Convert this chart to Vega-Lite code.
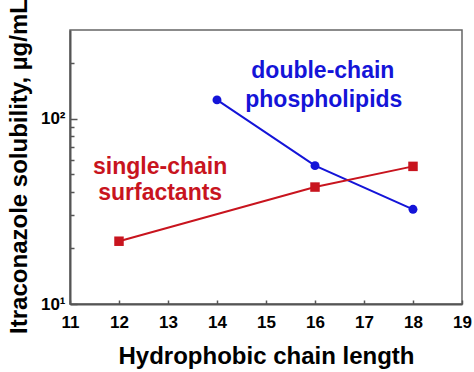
{
  "$schema": "https://vega.github.io/schema/vega-lite/v6.json",
  "width": 392,
  "height": 274,
  "autosize": {"type": "none"},
  "padding": {"left": 70, "top": 30, "right": 12, "bottom": 68},
  "background": "white",
  "config": {
    "view": {"stroke": "#666666", "strokeWidth": 1.5},
    "font": "Liberation Sans",
    "axis": {"labelFont": "Liberation Sans", "titleFont": "Liberation Sans", "labelColor": "black", "titleColor": "black", "labelFontWeight": "bold", "titleFontWeight": "bold", "domainColor": "#555555", "domainWidth": 2, "tickColor": "#555555", "tickWidth": 1.5, "grid": false}
  },
  "datasets": {
    "series": [
      {"series": "double-chain phospholipids", "chain": 14, "solubility": 126},
      {"series": "double-chain phospholipids", "chain": 16, "solubility": 55.7},
      {"series": "double-chain phospholipids", "chain": 18, "solubility": 32.4},
      {"series": "single-chain surfactants", "chain": 12, "solubility": 21.8},
      {"series": "single-chain surfactants", "chain": 16, "solubility": 42.7},
      {"series": "single-chain surfactants", "chain": 18, "solubility": 55.2}
    ],
    "labels": [
      {"series": "double-chain phospholipids", "text": "double-chain", "chain": 16.16, "solubility": 181},
      {"series": "double-chain phospholipids", "text": "phospholipids", "chain": 16.18, "solubility": 126.5},
      {"series": "single-chain surfactants", "text": "single-chain", "chain": 12.84, "solubility": 54.6},
      {"series": "single-chain surfactants", "text": "surfactants", "chain": 12.84, "solubility": 39.5}
    ]
  },
  "layer": [
    {
      "data": {"name": "series"},
      "mark": {"type": "line", "strokeWidth": 2},
      "encoding": {
        "x": {"field": "chain", "type": "quantitative", "scale": {"domain": [11, 19], "nice": false},
          "axis": {"title": "Hydrophobic chain length", "titleFontSize": 24, "titleY": 52, "titleBaseline": "middle", "values": [11, 12, 13, 14, 15, 16, 17, 18, 19], "labelFontSize": 17, "labelPadding": 14, "tickSize": -4, "labelFlush": false}},
        "y": {"field": "solubility", "type": "quantitative", "scale": {"type": "log", "domain": [10, 300], "nice": false},
          "axis": {"title": "Itraconazole solubility, µg/mL", "titleFontSize": 24, "titleX": -51, "titleY": 136, "titleBaseline": "middle", "titleAlign": "center", "values": [10, 20, 30, 40, 50, 60, 70, 80, 90, 100, 200], "labelExpr": "datum.value === 10 ? '10¹' : datum.value === 100 ? '10²' : ''", "labelFontSize": 17, "labelPadding": 12, "tickSize": {"condition": {"test": "datum.value === 10 || datum.value === 100", "value": -7}, "value": -4}, "labelFlush": false}},
        "color": {"field": "series", "type": "nominal", "scale": {"domain": ["double-chain phospholipids", "single-chain surfactants"], "range": ["#1414D8", "#C8141E"]}, "legend": null}
      }
    },
    {
      "data": {"name": "series"},
      "transform": [{"filter": "datum.series === 'double-chain phospholipids'"}],
      "mark": {"type": "point", "shape": "circle", "filled": true, "opacity": 1, "size": 80},
      "encoding": {
        "x": {"field": "chain", "type": "quantitative"},
        "y": {"field": "solubility", "type": "quantitative"},
        "color": {"field": "series", "type": "nominal", "legend": null}
      }
    },
    {
      "data": {"name": "series"},
      "transform": [{"filter": "datum.series === 'single-chain surfactants'"}],
      "mark": {"type": "point", "shape": "square", "filled": true, "opacity": 1, "size": 90},
      "encoding": {
        "x": {"field": "chain", "type": "quantitative"},
        "y": {"field": "solubility", "type": "quantitative"},
        "color": {"field": "series", "type": "nominal", "legend": null}
      }
    },
    {
      "data": {"name": "labels"},
      "mark": {"type": "text", "font": "Liberation Sans", "fontWeight": "bold", "fontSize": 23, "baseline": "middle", "align": "center"},
      "encoding": {
        "x": {"field": "chain", "type": "quantitative"},
        "y": {"field": "solubility", "type": "quantitative"},
        "text": {"field": "text"},
        "color": {"field": "series", "type": "nominal", "legend": null}
      }
    }
  ]
}
